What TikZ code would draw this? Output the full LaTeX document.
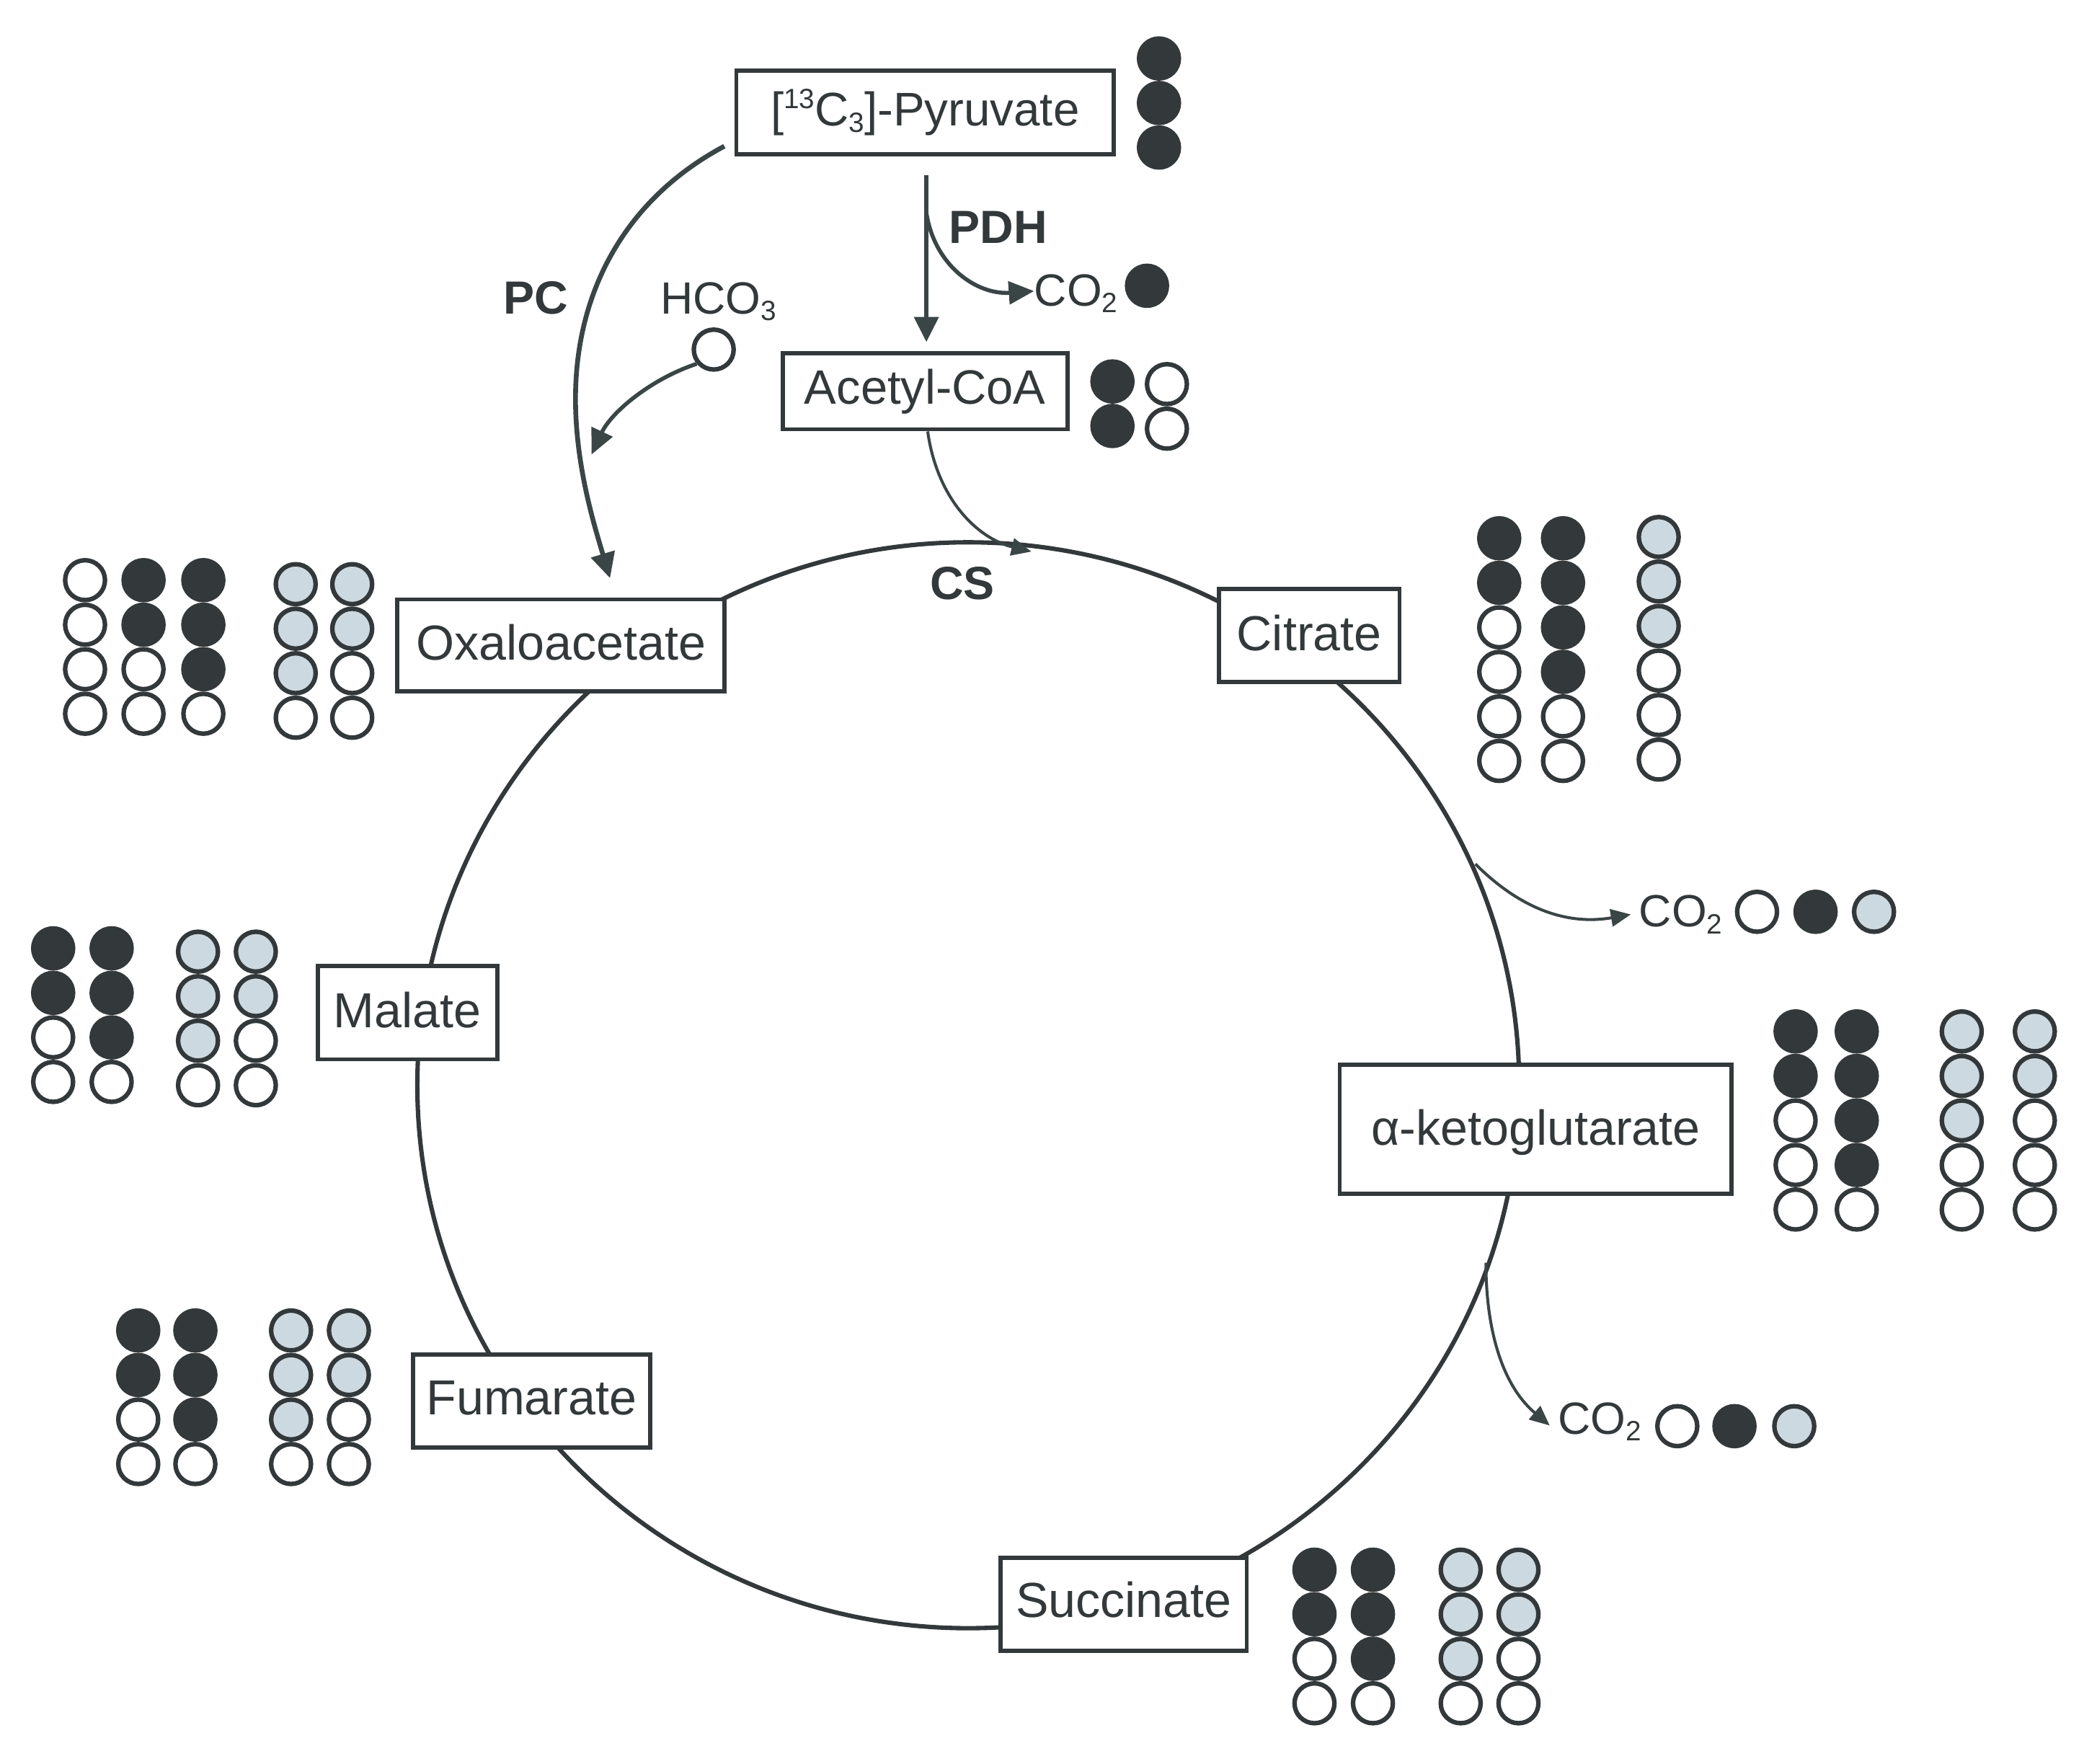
\documentclass[tikz,border=0pt]{standalone}
\usepackage{fontspec}
\setmainfont{Liberation Sans}
\usetikzlibrary{arrows.meta,shapes.geometric}
\definecolor{ink}{HTML}{33383A}
\definecolor{linec}{HTML}{3A4546}
\definecolor{pale}{HTML}{CDD9E0}
\tikzset{
  metab/.style={draw=ink,line width=3.2pt,fill=white,inner sep=0pt,text=ink,font=\fontsize{37}{40}\selectfont,align=center},
  lab/.style={inner sep=0pt,text=ink,font=\fontsize{34}{40}\selectfont},
  enz/.style={inner sep=0pt,text=ink,font=\fontsize{35}{40}\selectfont\bfseries},
  atom/.style={circle,inner sep=0pt,minimum size=30pt,line width=3.4pt,draw=ink},
  dk/.style={atom,fill=ink},
  wt/.style={atom,fill=white},
  gy/.style={atom,fill=pale},
  cyc/.style={ellipse,draw=ink,line width=3.3pt,inner sep=0pt,minimum width=829pt,minimum height=817pt},
  thick arrow/.style={draw=linec,line width=3.6pt,-{Triangle[length=19pt,width=18pt]}},
  mid arrow/.style={draw=linec,line width=3pt,-{Triangle[length=19pt,width=17pt]}},
  thin arrow/.style={draw=linec,line width=2.2pt,-{Triangle[length=15pt,width=13pt]}},
}
\newcommand{\atomcol}[4]{%
  \foreach \s [count=\i] in {#4}{
    \node[\s] (#1-\i) at (#2,{#3+33.5*(\i-1)}) {};
  }%
}
\newcommand{\subnum}[1]{\raisebox{-5pt}{\fontsize{21}{21}\selectfont #1}}
\newcommand{\supnum}[1]{\raisebox{13pt}{\fontsize{21}{21}\selectfont #1}}
\begin{document}
\begin{tikzpicture}[x=1pt,y=-1pt]
\useasboundingbox (0,0) rectangle (1568,1327);
% cycle
\node[cyc] (cycle) at (728.5,816.5) {};
% metabolites
\node[metab,minimum width=284pt,minimum height=63pt,font=\fontsize{35.5}{40}\selectfont] (pyr) at (696,84.5) {\raisebox{-5pt}{[\supnum{13}C\subnum{3}]-Pyruvate}};
\node[metab,minimum width=214pt,minimum height=57pt,font=\fontsize{36.3}{40}\selectfont] (acoa) at (696,294.5) {Acetyl-CoA};
\node[metab,minimum width=246pt,minimum height=69pt] (oaa) at (422,485.5) {\raisebox{5pt}{Oxaloacetate}};
\node[metab,minimum width=136pt,minimum height=70pt] (cit) at (985,478) {\raisebox{4pt}{Citrate}};
\node[metab,minimum width=135pt,minimum height=70pt] (mal) at (306.5,762) {\raisebox{5pt}{Malate}};
\node[metab,minimum width=295pt,minimum height=97pt] (akg) at (1155.5,849.5) {\raisebox{-12pt}[0pt][0pt]{α-ketoglutarate}};
\node[metab,minimum width=178pt,minimum height=70pt] (fum) at (400,1054) {\raisebox{5pt}{Fumarate}};
\node[metab,minimum width=185pt,minimum height=70pt] (suc) at (845.5,1207) {\raisebox{7pt}{Succinate}};
% labels
\node[enz] (pc) at (403,224) {PC};
\node[enz] (pdh) at (751,171) {PDH};
\node[enz] (cs) at (724,439) {CS};
\node[lab] (hco) at (540.5,227) {HCO\subnum{3}};
\node[lab,anchor=west] (co2a) at (778,221) {CO\subnum{2}};
\node[lab,anchor=west] (co2b) at (1233,688) {CO\subnum{2}};
\node[lab,anchor=west] (co2c) at (1172,1069.5) {CO\subnum{2}};
% atoms
\atomcol{py}{872}{44}{dk,dk,dk}
\node[dk] (co2a-d) at (863,215) {};
\atomcol{ac1}{837}{287}{dk,dk}
\atomcol{ac2}{878}{289}{wt,wt}
\node[wt] (hcod) at (537,263) {};
\atomcol{ox1}{64}{436.5}{wt,wt,wt,wt}
\atomcol{ox2}{108}{436.5}{dk,dk,wt,wt}
\atomcol{ox3}{153}{436.5}{dk,dk,dk,wt}
\atomcol{ox4}{222.5}{439.5}{gy,gy,gy,wt}
\atomcol{ox5}{265}{439.5}{gy,gy,wt,wt}
\atomcol{ci1}{1128}{405}{dk,dk,wt,wt,wt,wt}
\atomcol{ci2}{1176}{405}{dk,dk,dk,dk,wt,wt}
\atomcol{ci3}{1248}{404}{gy,gy,gy,wt,wt,wt}
\atomcol{ma1}{40}{713.5}{dk,dk,wt,wt}
\atomcol{ma2}{84}{713.5}{dk,dk,dk,wt}
\atomcol{ma3}{149}{716}{gy,gy,gy,wt}
\atomcol{ma4}{192.5}{716}{gy,gy,wt,wt}
\atomcol{ak1}{1351}{776}{dk,dk,wt,wt,wt}
\atomcol{ak2}{1397}{776}{dk,dk,dk,dk,wt}
\atomcol{ak3}{1476}{776}{gy,gy,gy,wt,wt}
\atomcol{ak4}{1531}{776}{gy,gy,wt,wt,wt}
\atomcol{fu1}{104}{1001}{dk,dk,wt,wt}
\atomcol{fu2}{147}{1001}{dk,dk,dk,wt}
\atomcol{fu3}{219}{1001}{gy,gy,gy,wt}
\atomcol{fu4}{262.5}{1001}{gy,gy,wt,wt}
\atomcol{su1}{989}{1181}{dk,dk,wt,wt}
\atomcol{su2}{1033}{1181}{dk,dk,dk,wt}
\atomcol{su3}{1099}{1181}{gy,gy,gy,wt}
\atomcol{su4}{1142.5}{1181}{gy,gy,wt,wt}
\node[wt] (cb1) at (1322,686) {};
\node[dk] (cb2) at (1366,686) {};
\node[gy] (cb3) at (1410,686) {};
\node[wt] (cc1) at (1262,1073) {};
\node[dk] (cc2) at (1305,1073) {};
\node[gy] (cc3) at (1350,1073) {};
% free ends
\coordinate (pcs) at (545,110);
\coordinate (pcm) at (433,300);
\coordinate (pce) at (459,435);
\coordinate (pdhb) at (697,160);
\coordinate (hcoe) at (445,342);
\coordinate (cse) at (776,415);
\coordinate (bb) at (1110,650);
\coordinate (bc) at (1118,950);
% connectors
\draw[thick arrow] (pcs) .. controls (470,150) and (433,220) .. (pcm) .. controls (433,350) and (447,395) .. (pce);
\draw[thick arrow,shorten <=14pt,shorten >=7pt] ([xshift=1pt]pyr.south) -- ([xshift=1pt]acoa.north);
\draw[mid arrow] (pdhb) .. controls (703,200) and (735,222) .. ([yshift=2pt]co2a.west);
\draw[mid arrow] (hcod.220) .. controls (490,285) and (460,310) .. (hcoe);
\draw[thin arrow] ([xshift=2pt]acoa.south) .. controls (705,375) and (735,405) .. (cse);
\draw[thin arrow] (bb) .. controls (1140,680) and (1175,697) .. ([xshift=-6pt]co2b.west);
\draw[thin arrow] (bc) .. controls (1118,1000) and (1130,1042) .. ([xshift=-6pt,yshift=-3pt]co2c.west);
\end{tikzpicture}
\end{document}
